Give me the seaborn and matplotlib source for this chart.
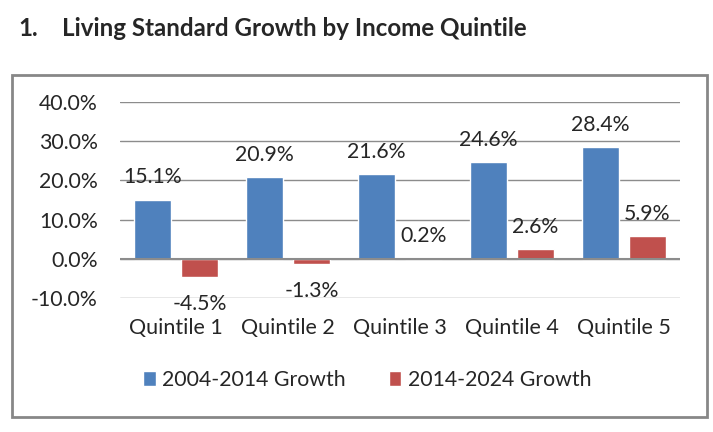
import seaborn as sns
import matplotlib.pyplot as plt
import matplotlib.patches as mpatches
import pandas as pd

quintiles = ['Quintile 1', 'Quintile 2', 'Quintile 3', 'Quintile 4', 'Quintile 5']
growth_2004_2014 = [15.1, 20.9, 21.6, 24.6, 28.4]
growth_2014_2024 = [-4.5, -1.3, 0.2, 2.6, 5.9]
series_names = ['2004-2014 Growth', '2014-2024 Growth']
y_ticks = [-10, 0, 10, 20, 30, 40]

df = pd.DataFrame({
    'quintile': quintiles * 2,
    'value': growth_2004_2014 + growth_2014_2024,
    'series': [series_names[0]] * 5 + [series_names[1]] * 5,
})

sns.set_style('white')
plt.rcParams['font.family'] = ['Lato', 'DejaVu Sans']

fig = plt.figure(figsize=(7.13, 4.32), dpi=100)
ax = fig.add_axes([120 / 713, 1 - 298.3 / 432, 560 / 713, (298.3 - 101.7) / 432])

# outer chart frame
fig.patches.append(mpatches.Rectangle((12 / 713, 1 - 417 / 432), 695 / 713, 342 / 432,
                                      transform=fig.transFigure, fill=False,
                                      edgecolor='#878787', lw=2))

sns.barplot(data=df, x='quintile', y='value', hue='series',
            palette=['#4F81BD', '#C0504D'], saturation=1,
            width=0.84, gap=0.2, ax=ax, zorder=3)

ax.set_ylim(-10, 40)
ax.set_xlim(-0.5, 4.5)
ax.set_yticks(y_ticks)
ax.set_yticklabels([f'{t:.1f}%' for t in y_ticks], fontsize=15.3)
ax.yaxis.grid(True, color='#8c8c8c', lw=1)
ax.set_axisbelow(True)
ax.axhline(0, color='#8c8c8c', lw=1.5, zorder=4)
for s in ax.spines.values():
    s.set_visible(False)
ax.tick_params(axis='x', length=0, pad=14.5, labelsize=15.5)
ax.tick_params(axis='y', length=0, pad=16)
ax.set_xlabel('')
ax.set_ylabel('')

# data labels
for cont in ax.containers:
    for bar in cont:
        v = bar.get_height()
        x = bar.get_x() + bar.get_width() / 2
        off = 16 if v >= 0 else -19.5
        ax.annotate(f'{v:.1f}%', (x, v), xytext=(0, off), textcoords='offset points',
                    ha='center', va='center', fontsize=15.3)

handles, labels = ax.get_legend_handles_labels()
ax.get_legend().remove()
fig.legend(handles, labels, loc='center', bbox_to_anchor=(0.515, 1 - 380 / 432),
           ncol=2, frameon=False, fontsize=15.3, handlelength=0.6, handleheight=0.7,
           handletextpad=0.3, columnspacing=2.0)

fig.text(18 / 713, 1 - 29 / 432, '1.', fontsize=17.4, fontweight='bold', va='center')
fig.text(62 / 713, 1 - 29 / 432, 'Living Standard Growth by Income Quintile',
         fontsize=17.4, fontweight='bold', va='center')

fig.savefig('out.png', dpi=100)
